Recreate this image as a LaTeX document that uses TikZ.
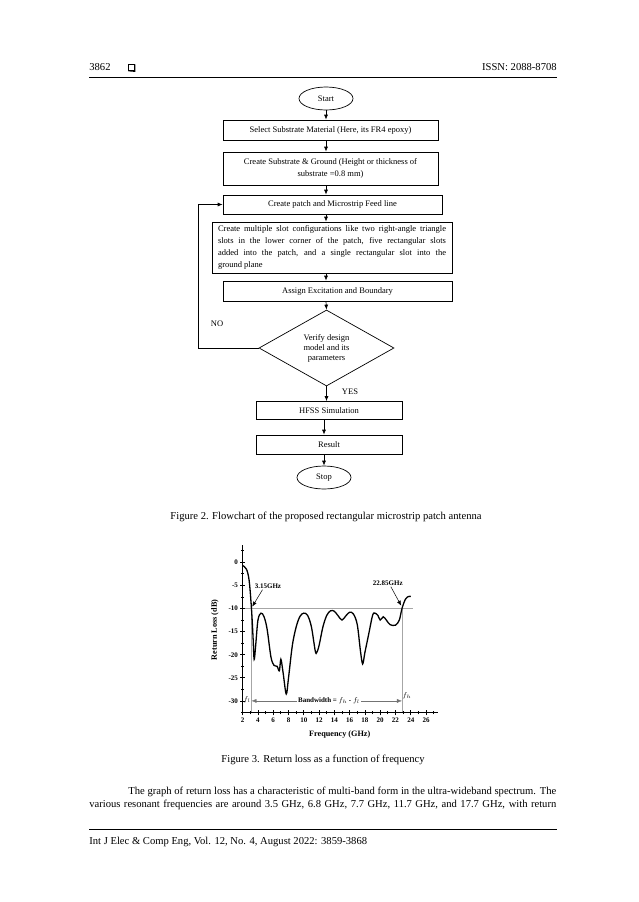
\documentclass[tikz,border=0pt]{standalone}
\usepackage{fontspec}
\setmainfont{Liberation Serif}
\usetikzlibrary{arrows.meta, shapes.geometric, calc}

\begin{document}
\begin{tikzpicture}[
  x=1pt, y=-1pt,
  >={Latex[length=5pt,width=4pt]},
  line width=0.7pt,
  block/.style={
    draw,
    rectangle,
    inner sep=2pt,
    minimum height=19pt,
    font=\fontsize{8.5}{12}\selectfont
  },
  term/.style={draw, ellipse, inner sep=0pt, minimum width=54pt,
    minimum height=23pt, font=\fontsize{8.5}{12}\selectfont},
  decision/.style={draw, diamond, inner sep=0pt, minimum width=135pt,
    minimum height=76pt, align=center, font=\fontsize{8.5}{10}\selectfont},
  flowlab/.style={inner sep=0pt, font=\fontsize{8.5}{10}\selectfont},
  pagetext/.style={inner sep=0pt, font=\fontsize{10.6}{13}\selectfont},
  ticklab/.style={inner sep=1pt, font=\fontsize{7}{8}\selectfont\bfseries},
  axlab/.style={inner sep=0pt, font=\fontsize{8.2}{9}\selectfont\bfseries},
  guide/.style={line width=0.4pt, black!35}
]
\useasboundingbox (0,0) rectangle (638,902);

% --- Page header ---
\node[pagetext, anchor=west] (pagenum) at (89,67.5) {3862};
\node[draw, line width=0.5pt, minimum size=6pt, inner sep=0pt] (hsq) at (131,67.5) {};
\draw[line width=1.1pt] ([xshift=0.6pt]hsq.south west) -- ([xshift=0.6pt,yshift=-0.6pt]hsq.south east)
  -- ([xshift=0.6pt]hsq.north east);
\node[pagetext, anchor=east] (issn) at (557,67.5) {ISSN: 2088-8708};
\draw[line width=0.8pt] (89,77) -- (557,77);

% --- Flowchart blocks ---
\node[term] (start) at (326,98.5) {Start};
\node[block, minimum width=215pt, minimum height=20pt] (subs) at (330.5,130) {Select Substrate Material (Here, its FR4 epoxy)};
\node[block, minimum width=215pt, minimum height=33pt, align=center] (ground) at (330.5,168.5)
  {Create Substrate \& Ground (Height or thickness of\\substrate =0.8 mm)};
\node[block, minimum width=219pt] (patch) at (332.5,204.5) {Create patch and Microstrip Feed line};
\node[block, minimum width=240pt, minimum height=51pt, align=left] (slots) at (332,247.5)
  {\makebox[228pt][s]{Create multiple slot configurations like two right-angle triangle}\\
   \makebox[228pt][s]{slots in the lower corner of the patch, five rectangular slots}\\
   \makebox[228pt][s]{added into the patch, and a single rectangular slot into the}\\
   ground plane};
\node[block, minimum width=229pt, minimum height=20pt] (excite) at (337.5,291) {Assign Excitation and Boundary};
\node[decision] (verify) at (326.5,348) {Verify design\\model and its\\parameters};
\node[block, minimum width=146pt, minimum height=18pt] (hfss) at (329,410.5) {HFSS Simulation};
\node[block, minimum width=146pt, minimum height=19pt] (result) at (329,444.5) {Result};
\node[term] (stop) at (324,477.5) {Stop};

% --- Flowchart arrows ---
\draw[->] (start.south) -- (start.south |- subs.north);
\draw[->] (subs.south -| start) -- (ground.north -| start);
\draw[->] (ground.south -| start) -- (patch.north -| start);
\draw[->] (patch.south -| start) -- (slots.north -| start);
\draw[->] (slots.south -| start) -- (excite.north -| start);
\draw[->] (excite.south -| start) -- (verify.north);
\draw[->] (verify.south) -- (verify.south |- hfss.north);
\draw[->] (hfss.south -| stop) -- (result.north -| stop);
\draw[->] (result.south -| stop) -- (stop.north);

% loop back when the check fails
\draw[->] (verify.west) -- ++(-60,0) |- (patch.west);
\node[flowlab] (no) at (217,324) {NO};
\node[flowlab] (yes) at (350,392) {YES};

\node[pagetext] (cap2) at (326,517) {Figure 2. Flowchart of the proposed rectangular microstrip patch antenna};

% --- Return loss plot (x: GHz, y: dB) ---
\begin{scope}[shift={(227.4,562.3)}, x=7.64pt, y=4.62pt]
  \draw[guide] (2,-10) -- (24.3,-10);
  \draw[guide] (3.15,-10) -- (3.15,-32.6);
  \draw[guide] (22.85,-10) -- (22.85,-32.6);

  \draw[line width=1pt] (2,3.7) -- (2,-32.6) -- (27.6,-32.6);
  \foreach \f in {2,4,...,26}
    \draw[line width=0.8pt] ([yshift=-2.5pt]\f,-32.6) -- ([yshift=2.5pt]\f,-32.6);
  \foreach \f in {3,5,...,27}
    \draw[line width=0.8pt] ([yshift=-1.5pt]\f,-32.6) -- ([yshift=1.5pt]\f,-32.6);
  \foreach \v in {0,-5,...,-30}
    \draw[line width=0.8pt] ([xshift=-2.5pt]2,\v) -- ([xshift=2.5pt]2,\v);
  \foreach \v in {2.5,-2.5,-7.5,...,-32.5}
    \draw[line width=0.8pt] ([xshift=-1.5pt]2,\v) -- ([xshift=1.5pt]2,\v);

  \foreach \f in {2,4,...,26}
    \node[ticklab, anchor=north] (xt\f) at (\f,-33.4) {\f};
  \foreach \v in {0,-5,...,-30}
    \node[ticklab, anchor=east] (yt\v) at (1.55,\v) {\v};

  \node[axlab, rotate=90] (ylab) at (-1.62,-14.65) {Return Loss (dB)};
  \node[axlab] (xlab) at (14.7,-37.2) {Frequency (GHz)};

  \draw[line width=1.3pt] plot[smooth, tension=0.55] coordinates {
    (2,-0.7) (2.5,-1.5) (2.85,-4) (3.15,-10) (3.35,-16) (3.5,-21) (3.7,-18)
    (4.0,-12.5) (4.4,-11) (4.8,-11.8) (5.2,-14.5) (5.7,-20.5) (6.1,-22.3)
    (6.5,-22.5) (6.8,-23.5) (7.0,-21) (7.3,-24) (7.7,-28.5) (8.0,-25)
    (8.5,-18) (9.0,-14) (9.5,-11.7) (10.0,-11) (10.5,-11.5) (11.0,-14)
    (11.5,-19.2) (11.7,-19.5) (12.0,-18) (12.5,-14) (13.0,-11.5) (13.5,-10.5)
    (14.0,-10.6) (14.5,-11.6) (15.0,-12.5) (15.5,-11.6) (16.0,-10.8)
    (16.5,-11.2) (17.0,-13.5) (17.4,-19) (17.7,-22) (18.0,-19.5) (18.5,-15.5)
    (19.0,-11.5) (19.3,-11) (19.7,-11.5) (20.0,-12.5) (20.4,-11.8)
    (20.8,-12.5) (21.3,-13.5) (22.0,-13.6) (22.5,-12.5) (22.85,-10)
    (23.3,-8) (23.7,-7.4) (24.0,-7.4)};

  % cut-off markers
  \node[ticklab] (lowlab) at (5.31,-5.13) {3.15GHz};
  \node[ticklab] (highlab) at (21.0,-4.48) {22.85GHz};
  \coordinate (lowcut) at (3.25,-9.6);
  \coordinate (highcut) at (22.75,-9.4);
  \draw[->, line width=0.5pt] ([xshift=9pt]lowlab.south west) -- (lowcut);
  \draw[->, line width=0.5pt] ([xshift=3pt]highlab.south) -- (highcut);

  % bandwidth span
  \node[ticklab] (bw) at (13.3,-30.0) {Bandwidth = $f_h$ - $f_l$};
  \coordinate (bwlow) at (3.15,-30.0);
  \coordinate (bwhigh) at (22.85,-30.0);
  \draw[->, line width=0.4pt, black!55] (bw.west) -- (bwlow);
  \draw[->, line width=0.4pt, black!55] (bw.east) -- (bwhigh);
  \node[ticklab] (fl) at (2.57,-29.7) {$f_l$};
  \node[ticklab] (fh) at (23.5,-28.9) {$f_h$};
\end{scope}

\node[pagetext] (cap3) at (323,760) {Figure 3. Return loss as a function of frequency};

% --- Body text and footer ---
\node[pagetext, anchor=west] (para1) at (128,792)
  {\makebox[428pt][s]{The graph of return loss has a characteristic of multi-band form in the ultra-wideband spectrum. The}};
\node[pagetext, anchor=west] (para2) at (89,805)
  {\makebox[467pt][s]{various resonant frequencies are around 3.5 GHz, 6.8 GHz, 7.7 GHz, 11.7 GHz, and 17.7 GHz, with return}};
\draw[line width=0.8pt] (89,829) -- (557,829);
\node[pagetext, anchor=west] (foot) at (89,842) {Int J Elec \& Comp Eng, Vol. 12, No. 4, August 2022: 3859-3868};

\end{tikzpicture}
\end{document}
